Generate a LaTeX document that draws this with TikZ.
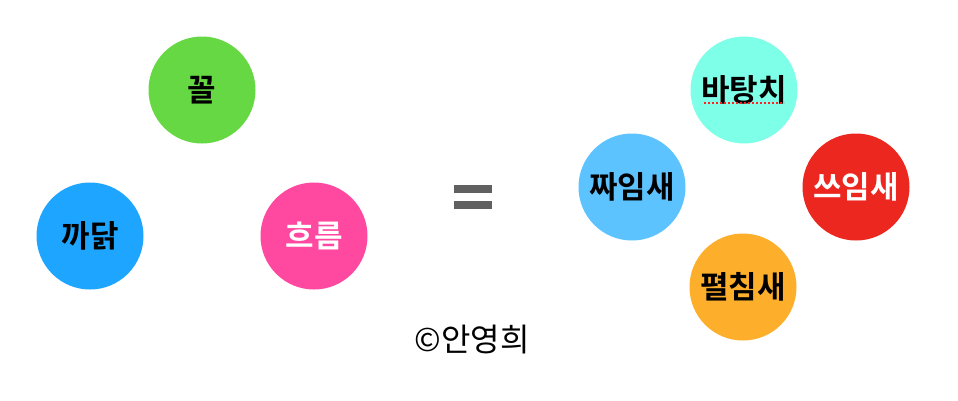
\documentclass[tikz,border=0pt]{standalone}
\usepackage{fontspec}
\newfontfamily\krb{Noto Sans CJK KR Bold}
\newfontfamily\krr{Noto Sans CJK KR}
\definecolor{cgreen}{HTML}{66D843}
\definecolor{cblue}{HTML}{1EA5FF}
\definecolor{cpink}{HTML}{FF48A0}
\definecolor{cmint}{HTML}{7DFFE8}
\definecolor{clblue}{HTML}{5CC3FF}
\definecolor{cred}{HTML}{EC2720}
\definecolor{corange}{HTML}{FDAE2B}
\definecolor{cgray}{HTML}{606060}
\definecolor{spell}{HTML}{FF2020}
\tikzset{
  bubble/.style={circle, minimum size=107pt, inner sep=0pt, fill=#1,
    font=\krb\fontsize{31}{34}\selectfont},
}
\begin{document}
\begin{tikzpicture}[x=1pt,y=-1pt]
\useasboundingbox[fill=white] (0,0) rectangle (958,400);
\node[bubble=cgreen] (kkol) at (202,90) {꼴};
\node[bubble=cblue] (kkadak) at (90,236) {까닭};
\node[bubble=cpink, text=white] (heureum) at (314,236) {흐름};
\node[bubble=cmint] (batangchi) at (744,90) {바탕치};
\node[bubble=clblue] (jjaimsae) at (632,187) {짜임새};
\node[bubble=cred, text=white] (sseuimsae) at (856,187) {쓰임새};
\node[bubble=corange] (pyeolchimsae) at (743,287) {펼침새};
\fill[cgray] (454,185) rectangle (492,193);
\fill[cgray] (454,201) rectangle (492,209);
\draw[spell, line width=2pt, dash pattern=on 2pt off 2pt] (704,102.5) -- (784,102.5);
\node[font=\krr\fontsize{32}{35}\selectfont, inner sep=0pt] (credit) at (472,340) {©안영희};
\end{tikzpicture}
\end{document}
